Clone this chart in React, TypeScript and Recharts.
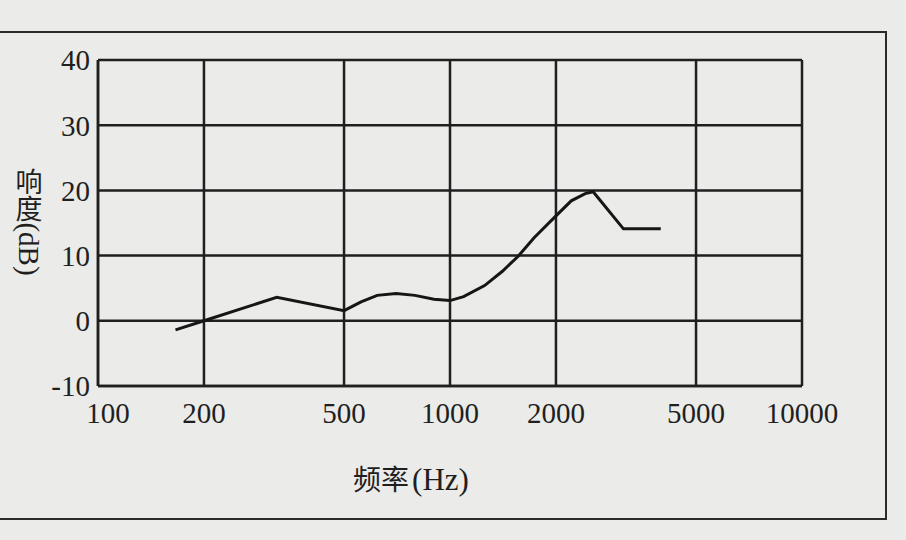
import { LineChart, Line, XAxis, YAxis, CartesianGrid, Label } from "recharts";

// frequency response
const freqHz = [166, 200, 322, 500, 559, 621, 703, 795, 900, 1000, 1093, 1254, 1409, 1562, 1731, 2000, 2210, 2422, 2551, 3110, 3970];
const loudnessDb = [-1.4, 0, 3.6, 1.55, 2.9, 3.9, 4.2, 3.9, 3.3, 3.1, 3.7, 5.4, 7.6, 9.9, 12.7, 16.1, 18.4, 19.5, 19.8, 14.1, 14.1];

const freqTicks = [100, 200, 500, 1000, 2000, 5000, 10000];
const dbTicks = [-10, 0, 10, 20, 30, 40];

const data = freqHz.map((f, i) => ({ f, db: loudnessDb[i] }));

const serif = '"Liberation Serif", "DejaVu Serif", serif';
const cjk = '"Noto Sans CJK SC", sans-serif';
const ink = "#1f1f1f";
const paper = "#ebebe9";

function FreqTick({ x, y, payload }: any) {
  const nudge = payload.value === 100 ? 10 : 0;
  return (
    <text x={x + nudge} y={y} dy="0.71em" textAnchor="middle" fontFamily={serif} fontSize={29} fill={ink}>
      {payload.value}
    </text>
  );
}

function DbTick({ x, y, payload }: any) {
  return (
    <text x={x} y={y} dy="0.36em" textAnchor="end" fontFamily={serif} fontSize={29} fill={ink}>
      {payload.value}
    </text>
  );
}

// vertical title: CJK upright, latin turned, like the printed page
const yTitle = () => (
  <text x={29} y={222} textAnchor="middle" fill={ink} style={{ writingMode: "vertical-rl" }}>
    <tspan fontFamily={cjk} fontSize={27}>响度</tspan>
    <tspan fontFamily={serif} fontSize={29}>(dB)</tspan>
  </text>
);

const xTitle = () => (
  <text x={411} y={490} textAnchor="middle" fill={ink}>
    <tspan fontFamily={cjk} fontSize={28}>频率</tspan>
    <tspan fontFamily={serif} fontSize={31} dx={3}>(Hz)</tspan>
  </text>
);

export default function App() {
  return (
    <div style={{ position: "absolute", left: 0, top: 0, width: 906, height: 540, background: paper, overflow: "hidden" }}>
      <div
        style={{
          position: "absolute",
          left: -10,
          top: 31,
          width: 893,
          height: 485,
          border: "2px solid #2a2a2a",
        }}
      />
      <div style={{ position: "absolute", left: 0, top: 0 }}>
        <LineChart width={906} height={540} data={data} margin={{ top: 60, right: 104, left: 38, bottom: 114 }}>
          <CartesianGrid stroke={ink} strokeWidth={2.5} />
          <XAxis
            dataKey="f"
            type="number"
            scale="log"
            domain={[100, 10000]}
            ticks={freqTicks}
            interval={0}
            height={40}
            axisLine={{ stroke: ink, strokeWidth: 2.5 }}
            tickLine={false}
            tickSize={6}
            tickMargin={10}
            tick={<FreqTick />}
          >
            <Label content={xTitle} />
          </XAxis>
          <YAxis
            type="number"
            domain={[-10, 40]}
            ticks={dbTicks}
            interval={0}
            width={60}
            axisLine={{ stroke: ink, strokeWidth: 2.5 }}
            tickLine={false}
            tickSize={6}
            tickMargin={2}
            tick={<DbTick />}
          >
            <Label content={yTitle} />
          </YAxis>
          <Line
            type="linear"
            dataKey="db"
            stroke="#161616"
            strokeWidth={3}
            dot={false}
            isAnimationActive={false}
          />
        </LineChart>
      </div>
    </div>
  );
}
